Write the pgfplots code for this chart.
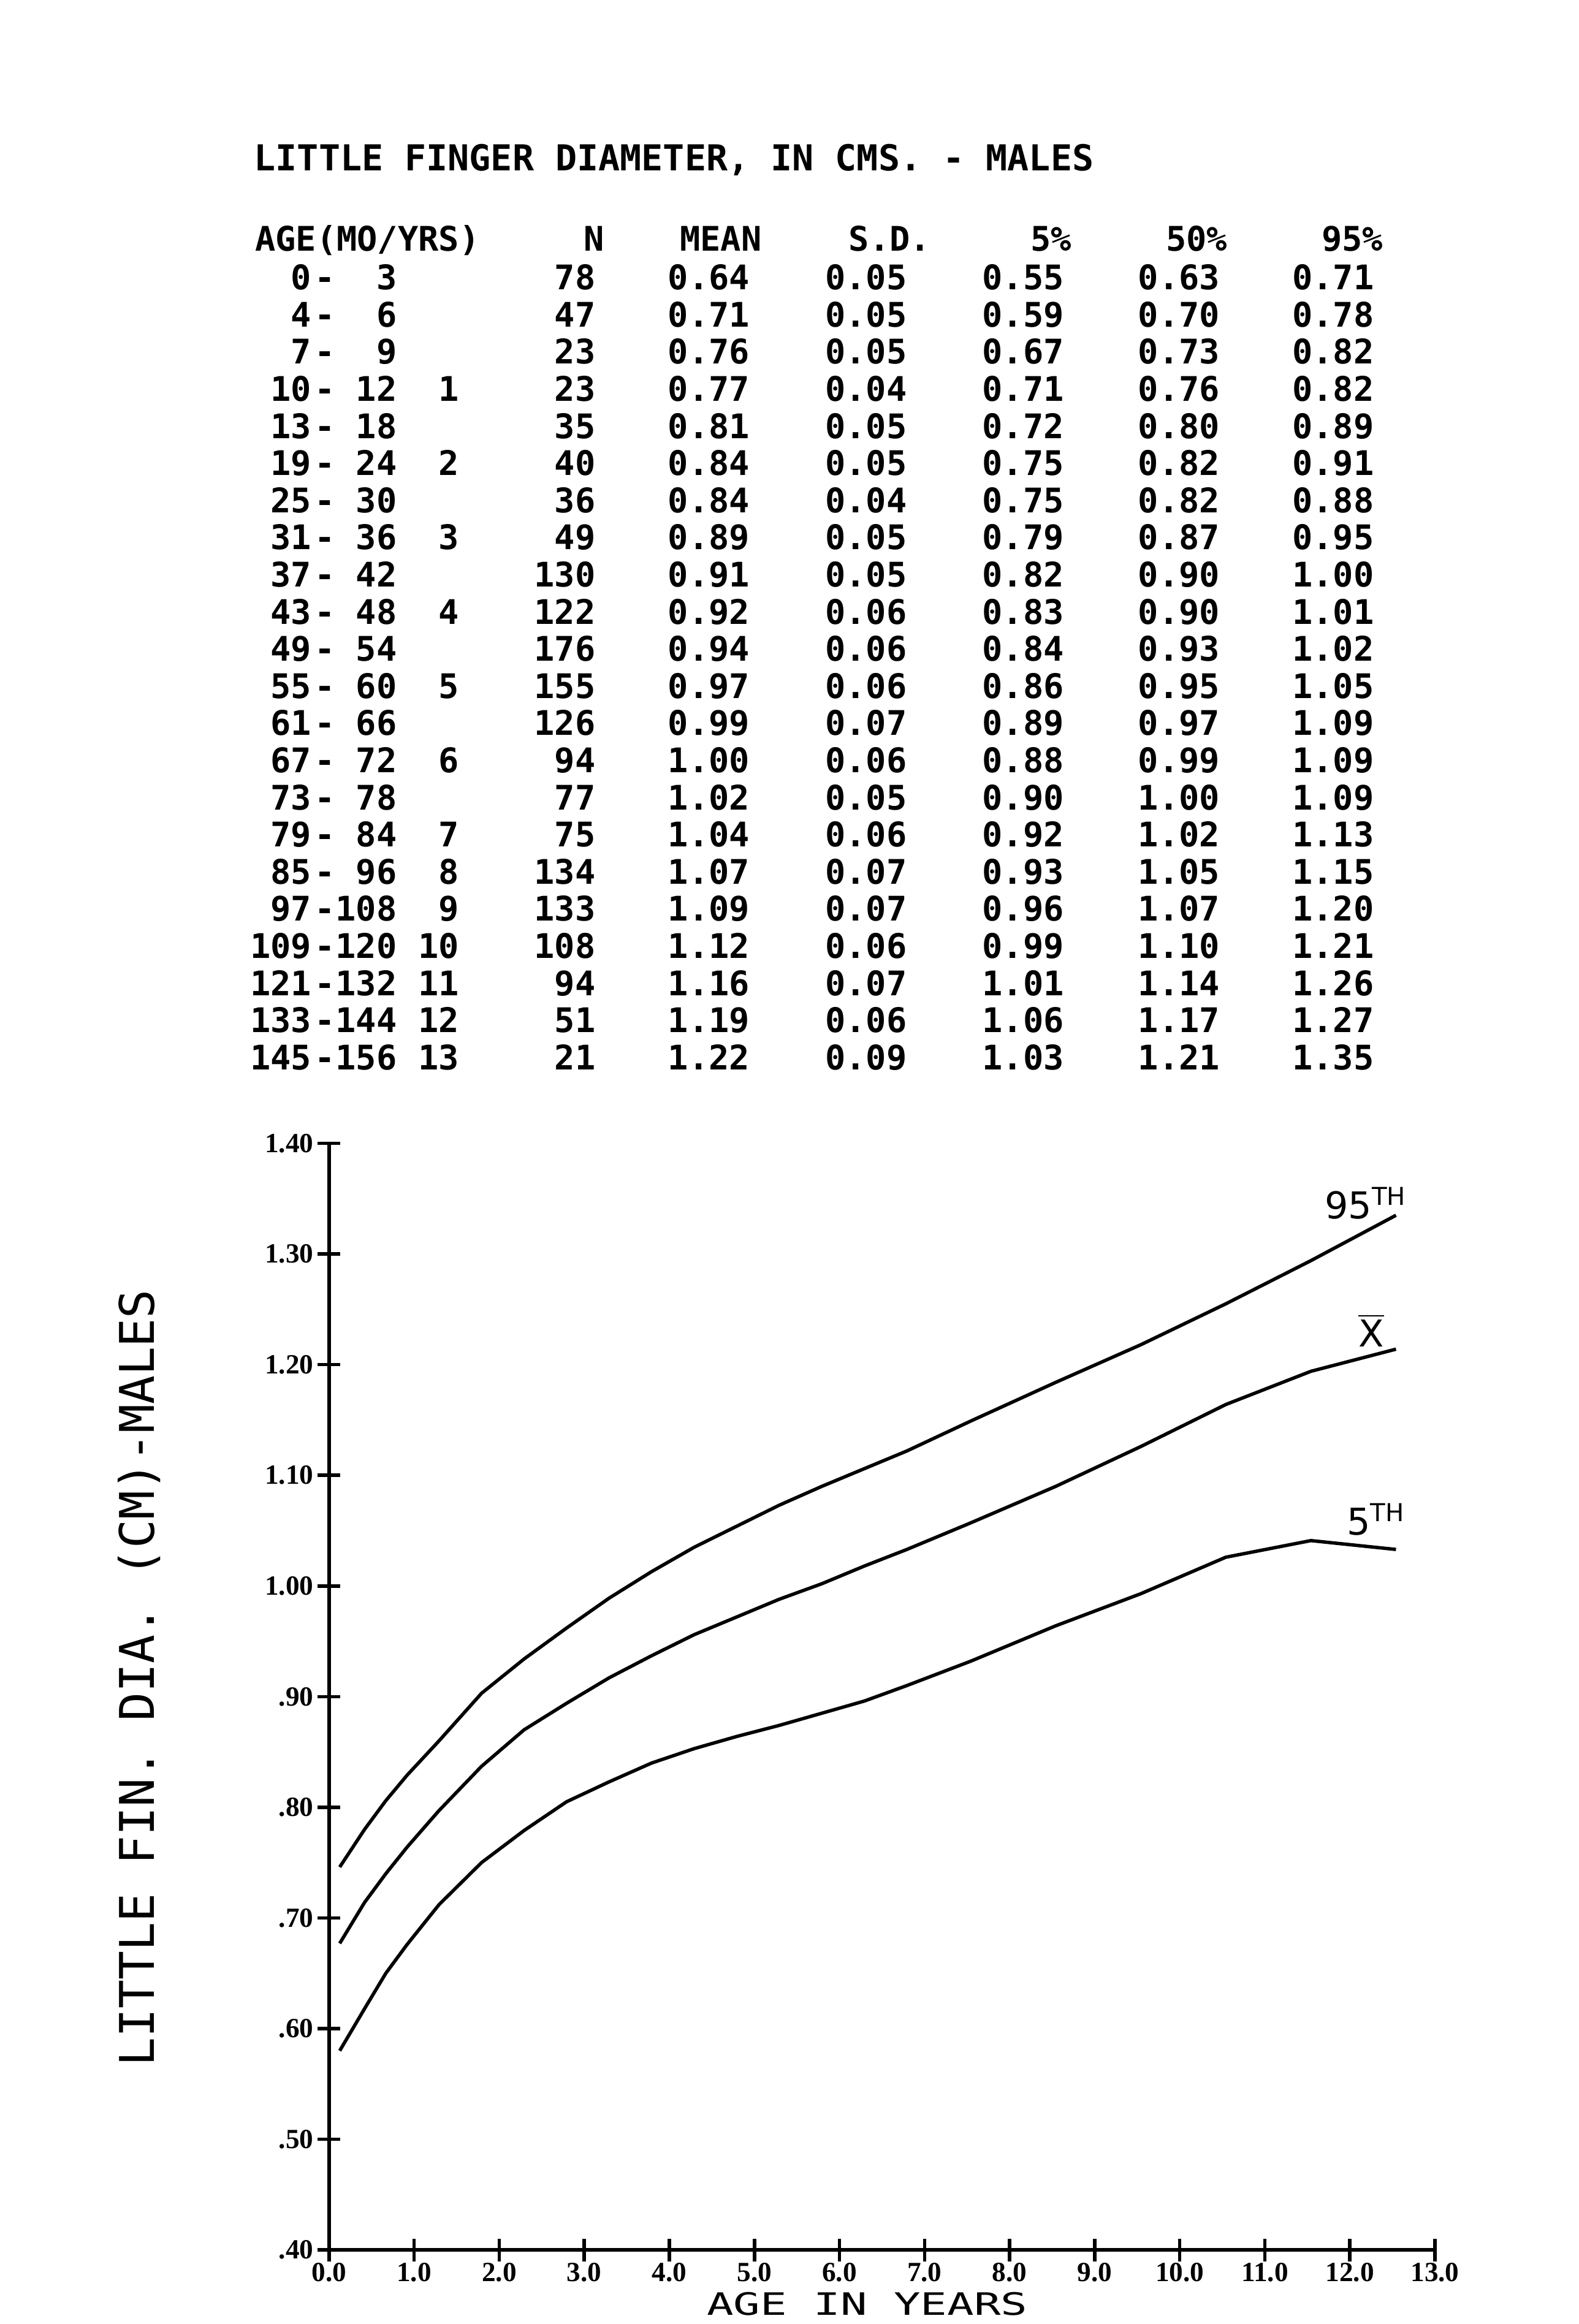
\documentclass[border=0pt]{standalone}
\usepackage{fontspec}
\usepackage{pgfplots}
\usepackage{pgfplotstable}
\pgfplotsset{compat=1.18}
\setmainfont{Liberation Serif}
\newfontfamily\monofont{DejaVu Sans Mono}
\newfontfamily\tickfam{Liberation Serif}
\newfontfamily\curvefont{DejaVu Sans}
\newcommand\tabfont{\monofont\bfseries\fontsize{11}{13}\selectfont}
\newcommand\titlefont{\monofont\bfseries\fontsize{11.6}{14}\selectfont}
\newcommand\tickfont{\tickfam\bfseries\fontsize{9}{11}\selectfont}
\newcommand\labfont{\monofont\fontsize{15.5}{18}\selectfont}
\newcommand\xlabfont{\monofont\fontsize{10}{12}\selectfont}
\newcommand\cfont{\curvefont\fontsize{12}{14}\selectfont}

\pgfplotstableread{
t      p95   mean  p5
0.125  0.746 0.677 0.580
0.417  0.780 0.714 0.618
0.667  0.806 0.740 0.650
0.917  0.829 0.764 0.676
1.292  0.860 0.797 0.712
1.792  0.903 0.837 0.750
2.292  0.934 0.870 0.779
2.792  0.962 0.894 0.805
3.292  0.989 0.917 0.823
3.792  1.013 0.937 0.840
4.292  1.035 0.956 0.853
4.792  1.054 0.972 0.864
5.292  1.073 0.988 0.874
5.792  1.090 1.002 0.885
6.292  1.106 1.018 0.896
6.792  1.122 1.033 0.910
7.542  1.149 1.057 0.932
8.542  1.184 1.090 0.964
9.542  1.218 1.126 0.993
10.542 1.255 1.164 1.026
11.542 1.294 1.194 1.041
12.542 1.335 1.214 1.033
}\curves

\begin{document}
\begin{tikzpicture}
\useasboundingbox (0,0) rectangle (18,-26.5014);
\clip (0,0) rectangle (18,-26.5014);
\begin{axis}[
  at={(3.7521cm,-25.6563cm)}, anchor=south west,
  scale only axis, width=12.6085cm, height=12.6186cm,
  xmin=0, xmax=13, ymin=0.4, ymax=1.4,
  axis lines=left, axis line style={-, line width=1.2pt, black},
  xtick={0,1,2,3,4,5,6,7,8,9,10,11,12,13},
  xticklabels={0.0,1.0,2.0,3.0,4.0,5.0,6.0,7.0,8.0,9.0,10.0,11.0,12.0,13.0},
  ytick={0.4,0.5,0.6,0.7,0.8,0.9,1.0,1.1,1.2,1.3,1.4},
  yticklabels={.40,.50,.60,.70,.80,.90,1.00,1.10,1.20,1.30,1.40},
  tick align=center, major tick length=0.26cm,
  tick style={black, line width=1.1pt},
  ticklabel style={font=\tickfont},
  xticklabel style={anchor=north, inner sep=0pt, yshift=-0.01cm},
  yticklabel style={anchor=east, inner sep=0pt, xshift=-0.04cm},
  xlabel={\scalebox{1.44}[1]{AGE IN YEARS}},
  ylabel={LITTLE FIN. DIA. (CM)-MALES},
  every axis x label/.style={at={(axis description cs:0.4866,-0.0375)}, anchor=north, inner sep=0pt, font=\xlabfont},
  every axis y label/.style={at={(axis description cs:-0.1716,0.5170)}, anchor=center, rotate=90, inner sep=0pt, font=\labfont},
  clip=false,
]
\addplot[black, line width=1.1pt] table[x=t, y=p95] {\curves};
\addplot[black, line width=1.1pt] table[x=t, y=mean] {\curves};
\addplot[black, line width=1.1pt] table[x=t, y=p5] {\curves};
\node[font=\cfont, inner sep=0pt] at (axis cs:12.19,1.346) {95\textsuperscript{TH}};
\node[font=\cfont, inner sep=0pt] at (axis cs:12.25,1.231) {$\overline{\mbox{X}}$};
\node[font=\cfont, inner sep=0pt] at (axis cs:12.31,1.060) {5\textsuperscript{TH}};
\end{axis}
\begin{scope}[x=0.01690141cm, y=-0.01690141cm, every node/.style={inner sep=0pt, font=\tabfont}]
\node[anchor=base west, font=\titlefont] at (171,115) {LITTLE FINGER DIAMETER, IN CMS. - MALES};
\node[anchor=base west] at (171.6,169.4) {AGE(MO/YRS)};
\node[anchor=base east] at (408,169.4) {N};
\node[anchor=base east] at (514,169.4) {MEAN};
\node[anchor=base east] at (628,169.4) {S.D.};
\node[anchor=base east] at (723,169.4) {5\%};
\node[anchor=base east] at (828,169.4) {50\%};
\node[anchor=base east] at (933,169.4) {95\%};
\foreach \a/\b/\yr/\n/\m/\sd/\pa/\pb/\pc [count=\i from 0] in {
 0/3//78/0.64/0.05/0.55/0.63/0.71,
 4/6//47/0.71/0.05/0.59/0.70/0.78,
 7/9//23/0.76/0.05/0.67/0.73/0.82,
 10/12/1/23/0.77/0.04/0.71/0.76/0.82,
 13/18//35/0.81/0.05/0.72/0.80/0.89,
 19/24/2/40/0.84/0.05/0.75/0.82/0.91,
 25/30//36/0.84/0.04/0.75/0.82/0.88,
 31/36/3/49/0.89/0.05/0.79/0.87/0.95,
 37/42//130/0.91/0.05/0.82/0.90/1.00,
 43/48/4/122/0.92/0.06/0.83/0.90/1.01,
 49/54//176/0.94/0.06/0.84/0.93/1.02,
 55/60/5/155/0.97/0.06/0.86/0.95/1.05,
 61/66//126/0.99/0.07/0.89/0.97/1.09,
 67/72/6/94/1.00/0.06/0.88/0.99/1.09,
 73/78//77/1.02/0.05/0.90/1.00/1.09,
 79/84/7/75/1.04/0.06/0.92/1.02/1.13,
 85/96/8/134/1.07/0.07/0.93/1.05/1.15,
 97/108/9/133/1.09/0.07/0.96/1.07/1.20,
 109/120/10/108/1.12/0.06/0.99/1.10/1.21,
 121/132/11/94/1.16/0.07/1.01/1.14/1.26,
 133/144/12/51/1.19/0.06/1.06/1.17/1.27,
 145/156/13/21/1.22/0.09/1.03/1.21/1.35}
{
 \pgfmathsetmacro\yy{195.4+25.05*\i}
 \node[anchor=base east] at (210.5,\yy) {\a};
 \node[anchor=base] at (219,\yy) {-};
 \node[anchor=base east] at (268,\yy) {\b};
 \node[anchor=base east] at (310,\yy) {\yr};
 \node[anchor=base east] at (402,\yy) {\n};
 \node[anchor=base east] at (506,\yy) {\m};
 \node[anchor=base east] at (612,\yy) {\sd};
 \node[anchor=base east] at (718,\yy) {\pa};
 \node[anchor=base east] at (823,\yy) {\pb};
 \node[anchor=base east] at (927,\yy) {\pc};
}
\end{scope}
\end{tikzpicture}
\end{document}
